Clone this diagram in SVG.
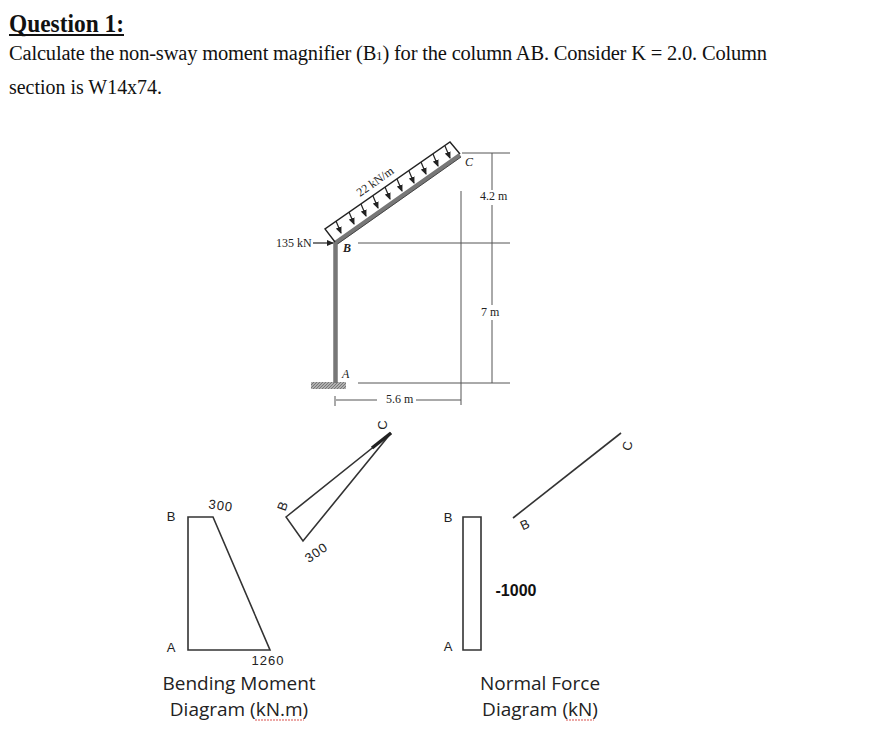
<svg xmlns="http://www.w3.org/2000/svg" width="891" height="743" viewBox="0 0 891 743">
<style>
.t{font-family:"Liberation Serif",serif;fill:#111}
.s{font-family:"Liberation Serif",serif;fill:#222;font-size:12px}
.c{font-family:"Open Sans","Noto Sans",sans-serif;fill:#222;font-size:19px;text-anchor:middle}
.h{font-family:"Liberation Sans",sans-serif;fill:#222;font-size:13px;text-anchor:middle}
.d{stroke:#555;stroke-width:1;fill:none}
.k{stroke:#333;stroke-width:1.6;fill:none}
.l{stroke:#222;stroke-width:1.2;fill:none}
.w{stroke:#d9534f;stroke-width:1;fill:none;stroke-dasharray:2 1}
</style>
<defs>
<marker id="a" markerUnits="userSpaceOnUse" markerWidth="7" markerHeight="6" refX="6" refY="3" orient="auto"><path d="M0 0L7 3L0 6z" fill="#222"/></marker>
<pattern id="g" width="3" height="3" patternUnits="userSpaceOnUse"><rect width="3" height="3" fill="#b0b0b0"/><path d="M0 3L3 0" stroke="#777" stroke-width="1"/></pattern>
</defs>
<rect width="891" height="743" fill="#fff"/>
<g id="heading">
<text class="t" x="9" y="32" font-size="25.5" font-weight="700" textLength="115" lengthAdjust="spacingAndGlyphs">Question 1:</text>
<rect x="9" y="34" width="115" height="2" fill="#111"/>
<text class="t" x="9" y="60" font-size="20.5" textLength="758" lengthAdjust="spacing">Calculate the non-sway moment magnifier (B<tspan font-size="13">1</tspan>) for the column AB. Consider K = 2.0. Column</text>
<text class="t" x="9" y="94" font-size="20.5" textLength="153" lengthAdjust="spacingAndGlyphs">section is W14x74.</text>
</g>
<g id="frame">
<rect x="311" y="382" width="35" height="7" fill="url(#g)"/>
<path d="M335.5 383V243L460 155" fill="none" stroke="#777" stroke-width="4.5"/>
<path d="M337.5 244L461 157" fill="none" stroke="#444" stroke-width="1"/>
<polyline points="335,242 325,229 450,142 460,154" fill="none" stroke="#222" stroke-width="1.4"/>
<g class="l">
<path marker-end="url(#a)" d="M336 221L341 233"/>
<path marker-end="url(#a)" d="M349 212L354 224"/>
<path marker-end="url(#a)" d="M361 204L366 216"/>
<path marker-end="url(#a)" d="M373 196L378 208"/>
<path marker-end="url(#a)" d="M385 187L390 199"/>
<path marker-end="url(#a)" d="M397 179L402 191"/>
<path marker-end="url(#a)" d="M409 171L414 183"/>
<path marker-end="url(#a)" d="M421 162L426 174"/>
<path marker-end="url(#a)" d="M433 154L438 166"/>
<path marker-end="url(#a)" d="M445 146L450 158"/>
</g>
<path class="l" marker-end="url(#a)" d="M313 243H333"/>
<text class="s" x="276" y="247">135 kN</text>
<text class="s" x="343" y="252" font-style="italic" font-weight="700" font-size="9">B</text>
<text class="s" x="342" y="378" font-style="italic" font-size="10">A</text>
<text class="s" x="465" y="166" font-style="italic" font-size="11">C</text>
<text class="s" transform="translate(360 197) rotate(-35)" font-size="11">22 kN/m</text>
</g>
<g id="dimensions" class="d">
<path d="M462 153H510M358 243H510M358 383H510M461 191V405M492 153V190M492 205V305M492 320V383M335 396V406M336 400H377M416 400H461"/>
<text class="s" x="480" y="200" stroke="none">4.2 m</text>
<text class="s" x="481" y="316" stroke="none">7 m</text>
<text class="s" x="386" y="403" stroke="none">5.6 m</text>
</g>
<g id="bending-moment">
<path class="k" d="M188 517H213L270 650H188Z"/>
<path class="k" d="M286 517L391 433L303 541Z"/>
<path d="M372 448L391 433" stroke="#222" stroke-width="3.5" fill="none"/>
<text class="h" x="171" y="521" font-size="15">B</text>
<text class="h" x="221" y="510" font-size="15" letter-spacing="1" transform="rotate(8 221 505)">300</text>
<text class="h" x="171" y="652" font-size="14">A</text>
<text class="h" x="268" y="665" letter-spacing="1">1260</text>
<text class="h" transform="translate(282 506) rotate(-70)" font-size="14" y="5">B</text>
<text class="h" transform="translate(316 552) rotate(-35)" font-size="15" letter-spacing="1" y="5">300</text>
<text class="h" transform="translate(382 425) rotate(-90)" font-size="15" y="5">C</text>
<text class="c" x="239" y="690">Bending Moment</text>
<text class="c" x="239" y="716">Diagram (kN.m)</text>
<path class="w" d="M255 720H304"/>
</g>
<g id="normal-force">
<path class="k" d="M463 517H481V650H463Z"/>
<path class="k" d="M513 518L621 433"/>
<text class="h" x="448" y="522" font-size="14">B</text>
<text class="h" x="525" y="529" font-size="14" transform="rotate(-25 525 525)">B</text>
<text class="h" x="448" y="651" font-size="14">A</text>
<text class="h" x="628" y="450" font-size="15" transform="rotate(-80 628 446)">C</text>
<text x="516" y="596" text-anchor="middle" font-family="'Liberation Sans',sans-serif" font-weight="700" font-size="16" fill="#111">-1000</text>
<text class="c" x="540" y="690">Normal Force</text>
<text class="c" x="540" y="716">Diagram (kN)</text>
<path class="w" d="M566 720H594"/>
</g>
</svg>
